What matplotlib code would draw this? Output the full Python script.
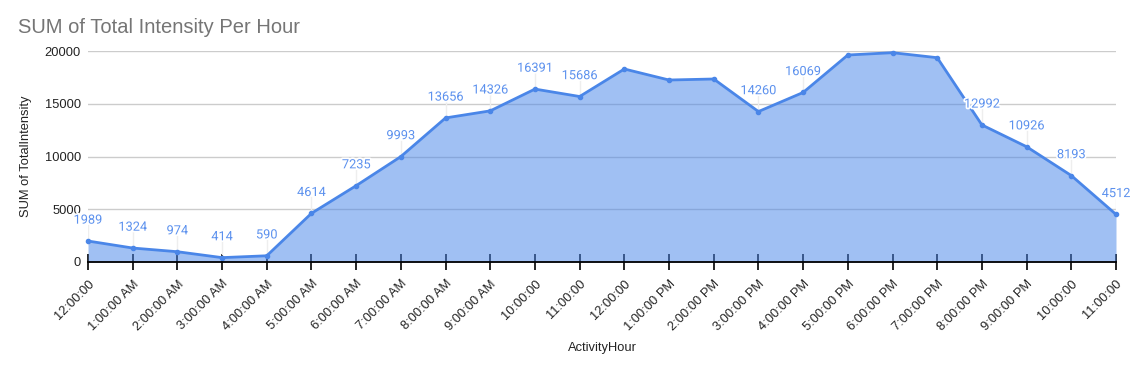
import matplotlib
matplotlib.use("Agg")
import matplotlib.pyplot as plt
import matplotlib.patheffects as pe

hours = ["12:00:00", "1:00:00 AM", "2:00:00 AM", "3:00:00 AM", "4:00:00 AM",
         "5:00:00 AM", "6:00:00 AM", "7:00:00 AM", "8:00:00 AM", "9:00:00 AM",
         "10:00:00", "11:00:00", "12:00:00", "1:00:00 PM", "2:00:00 PM",
         "3:00:00 PM", "4:00:00 PM", "5:00:00 PM", "6:00:00 PM", "7:00:00 PM",
         "8:00:00 PM", "9:00:00 PM", "10:00:00", "11:00:00"]
intensity = [1989, 1324, 974, 414, 590, 4614, 7235, 9993, 13656, 14326,
             16391, 15686, 18294, 17250, 17346, 14260, 16069, 19620, 19840, 19365,
             12992, 10926, 8193, 4512]
show_label = [True] * 12 + [False, False, False, True, True, False, False, False] + [True] * 4

LINE = "#4a86e8"
LABEL = "#5c91ee"

fig = plt.figure(figsize=(11.35, 3.71), dpi=100)
ax = fig.add_axes([88 / 1135, 109 / 371, 1028 / 1135, 211 / 371])
x = list(range(len(hours)))

ax.fill_between(x, intensity, 0, color=LINE, alpha=0.52, linewidth=0, zorder=2)
ax.plot(x, intensity, color=LINE, linewidth=2, marker="o", markersize=3,
        zorder=3, clip_on=False)

for xi, v, s in zip(x, intensity, show_label):
    if not s:
        continue
    ax.plot([xi, xi], [v + 300, v + 1500], color="#eeeeee", linewidth=1, zorder=2.5)
    ax.annotate(str(v), (xi, v), xytext=(0, 15), textcoords="offset points",
                ha="center", va="center", fontsize=9.2, family="Roboto",
                color=LABEL, zorder=4,
                path_effects=[pe.withStroke(linewidth=2.5, foreground="white")])

ax.set_xlim(0, len(hours) - 1)
ax.set_ylim(0, 20000)
ax.set_yticks([0, 5000, 10000, 15000, 20000])
ax.grid(axis="y", color="#cccccc", linewidth=1)
ax.set_axisbelow(True)
ax.tick_params(axis="y", length=0, pad=5, labelsize=9.3, labelcolor="#222222")
ax.set_xticks(x)
ax.set_xticklabels(hours, rotation=45, ha="right", rotation_mode="anchor",
                   fontsize=9.3, color="#222222")
ax.tick_params(axis="x", direction="inout", length=11, width=1.2, color="black", pad=6)
for lbl in ax.get_xticklabels():
    lbl.set_x(0)
for s in ["left", "right", "top"]:
    ax.spines[s].set_visible(False)
ax.spines["bottom"].set_color("black")
ax.spines["bottom"].set_linewidth(1.3)
ax.spines["bottom"].set_zorder(5)

for lbl in ax.get_yticklabels() + ax.get_xticklabels():
    lbl.set_family("Liberation Sans")

ax.set_xlabel("ActivityHour", fontsize=9.3, family="Liberation Sans", color="#222222")
ax.xaxis.set_label_coords(0.5, -0.38)
ax.set_ylabel("SUM of TotalIntensity", fontsize=9.3, family="Liberation Sans", color="#222222")
ax.yaxis.set_label_coords(-0.054, 0.5)

fig.text(18 / 1135, 1 - 33 / 371, "SUM of Total Intensity Per Hour", fontsize=14.5,
         family="Liberation Sans", color="#757575", ha="left", va="baseline")

fig.savefig("out.png", dpi=100)
